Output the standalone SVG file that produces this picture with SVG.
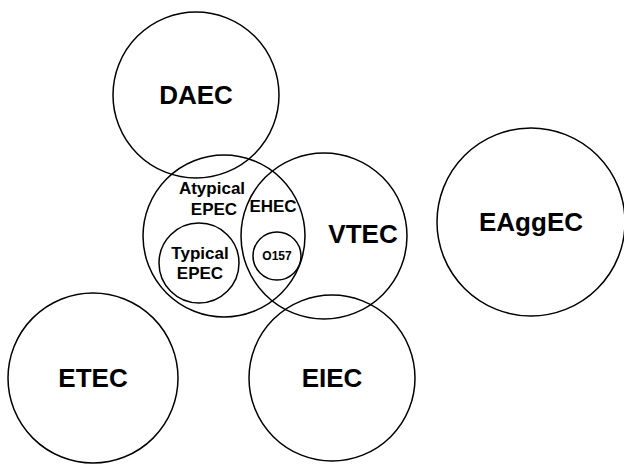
<svg xmlns="http://www.w3.org/2000/svg" width="624" height="471" viewBox="0 0 624 471">
<style>
circle{fill:none;stroke:#000;stroke-width:1.5}
text{font-family:"Liberation Sans",Arial,sans-serif;font-weight:bold;text-anchor:middle;fill:#000}
.b{font-size:26px}.m{font-size:17px}.s{font-size:12px}
</style>
<rect width="624" height="471" fill="#fff"/>
<g id="connectors"/>
<g id="DAEC"><circle cx="196" cy="95" r="83"/><text class="b" x="196" y="104">DAEC</text></g>
<g id="AtypicalEPEC"><circle cx="224" cy="236" r="81"/><text class="m" x="212" y="194">Atypical</text><text class="m" x="214" y="215">EPEC</text></g>
<g id="VTEC"><circle cx="324" cy="236" r="83"/><text class="b" x="363" y="243">VTEC</text><text class="m" x="273" y="212">EHEC</text></g>
<g id="EAggEC"><circle cx="531" cy="222" r="94"/><text class="b" x="531" y="231">EAggEC</text></g>
<g id="TypicalEPEC"><circle cx="199" cy="263" r="40"/><text class="m" x="200" y="259">Typical</text><text class="m" x="200" y="279">EPEC</text></g>
<g id="O157"><circle cx="277" cy="256" r="24"/><text class="s" x="277" y="260">O157</text></g>
<g id="ETEC"><circle cx="93" cy="378" r="85"/><text class="b" x="93" y="387">ETEC</text></g>
<g id="EIEC"><circle cx="332" cy="378" r="83"/><text class="b" x="332" y="387">EIEC</text></g>
</svg>
